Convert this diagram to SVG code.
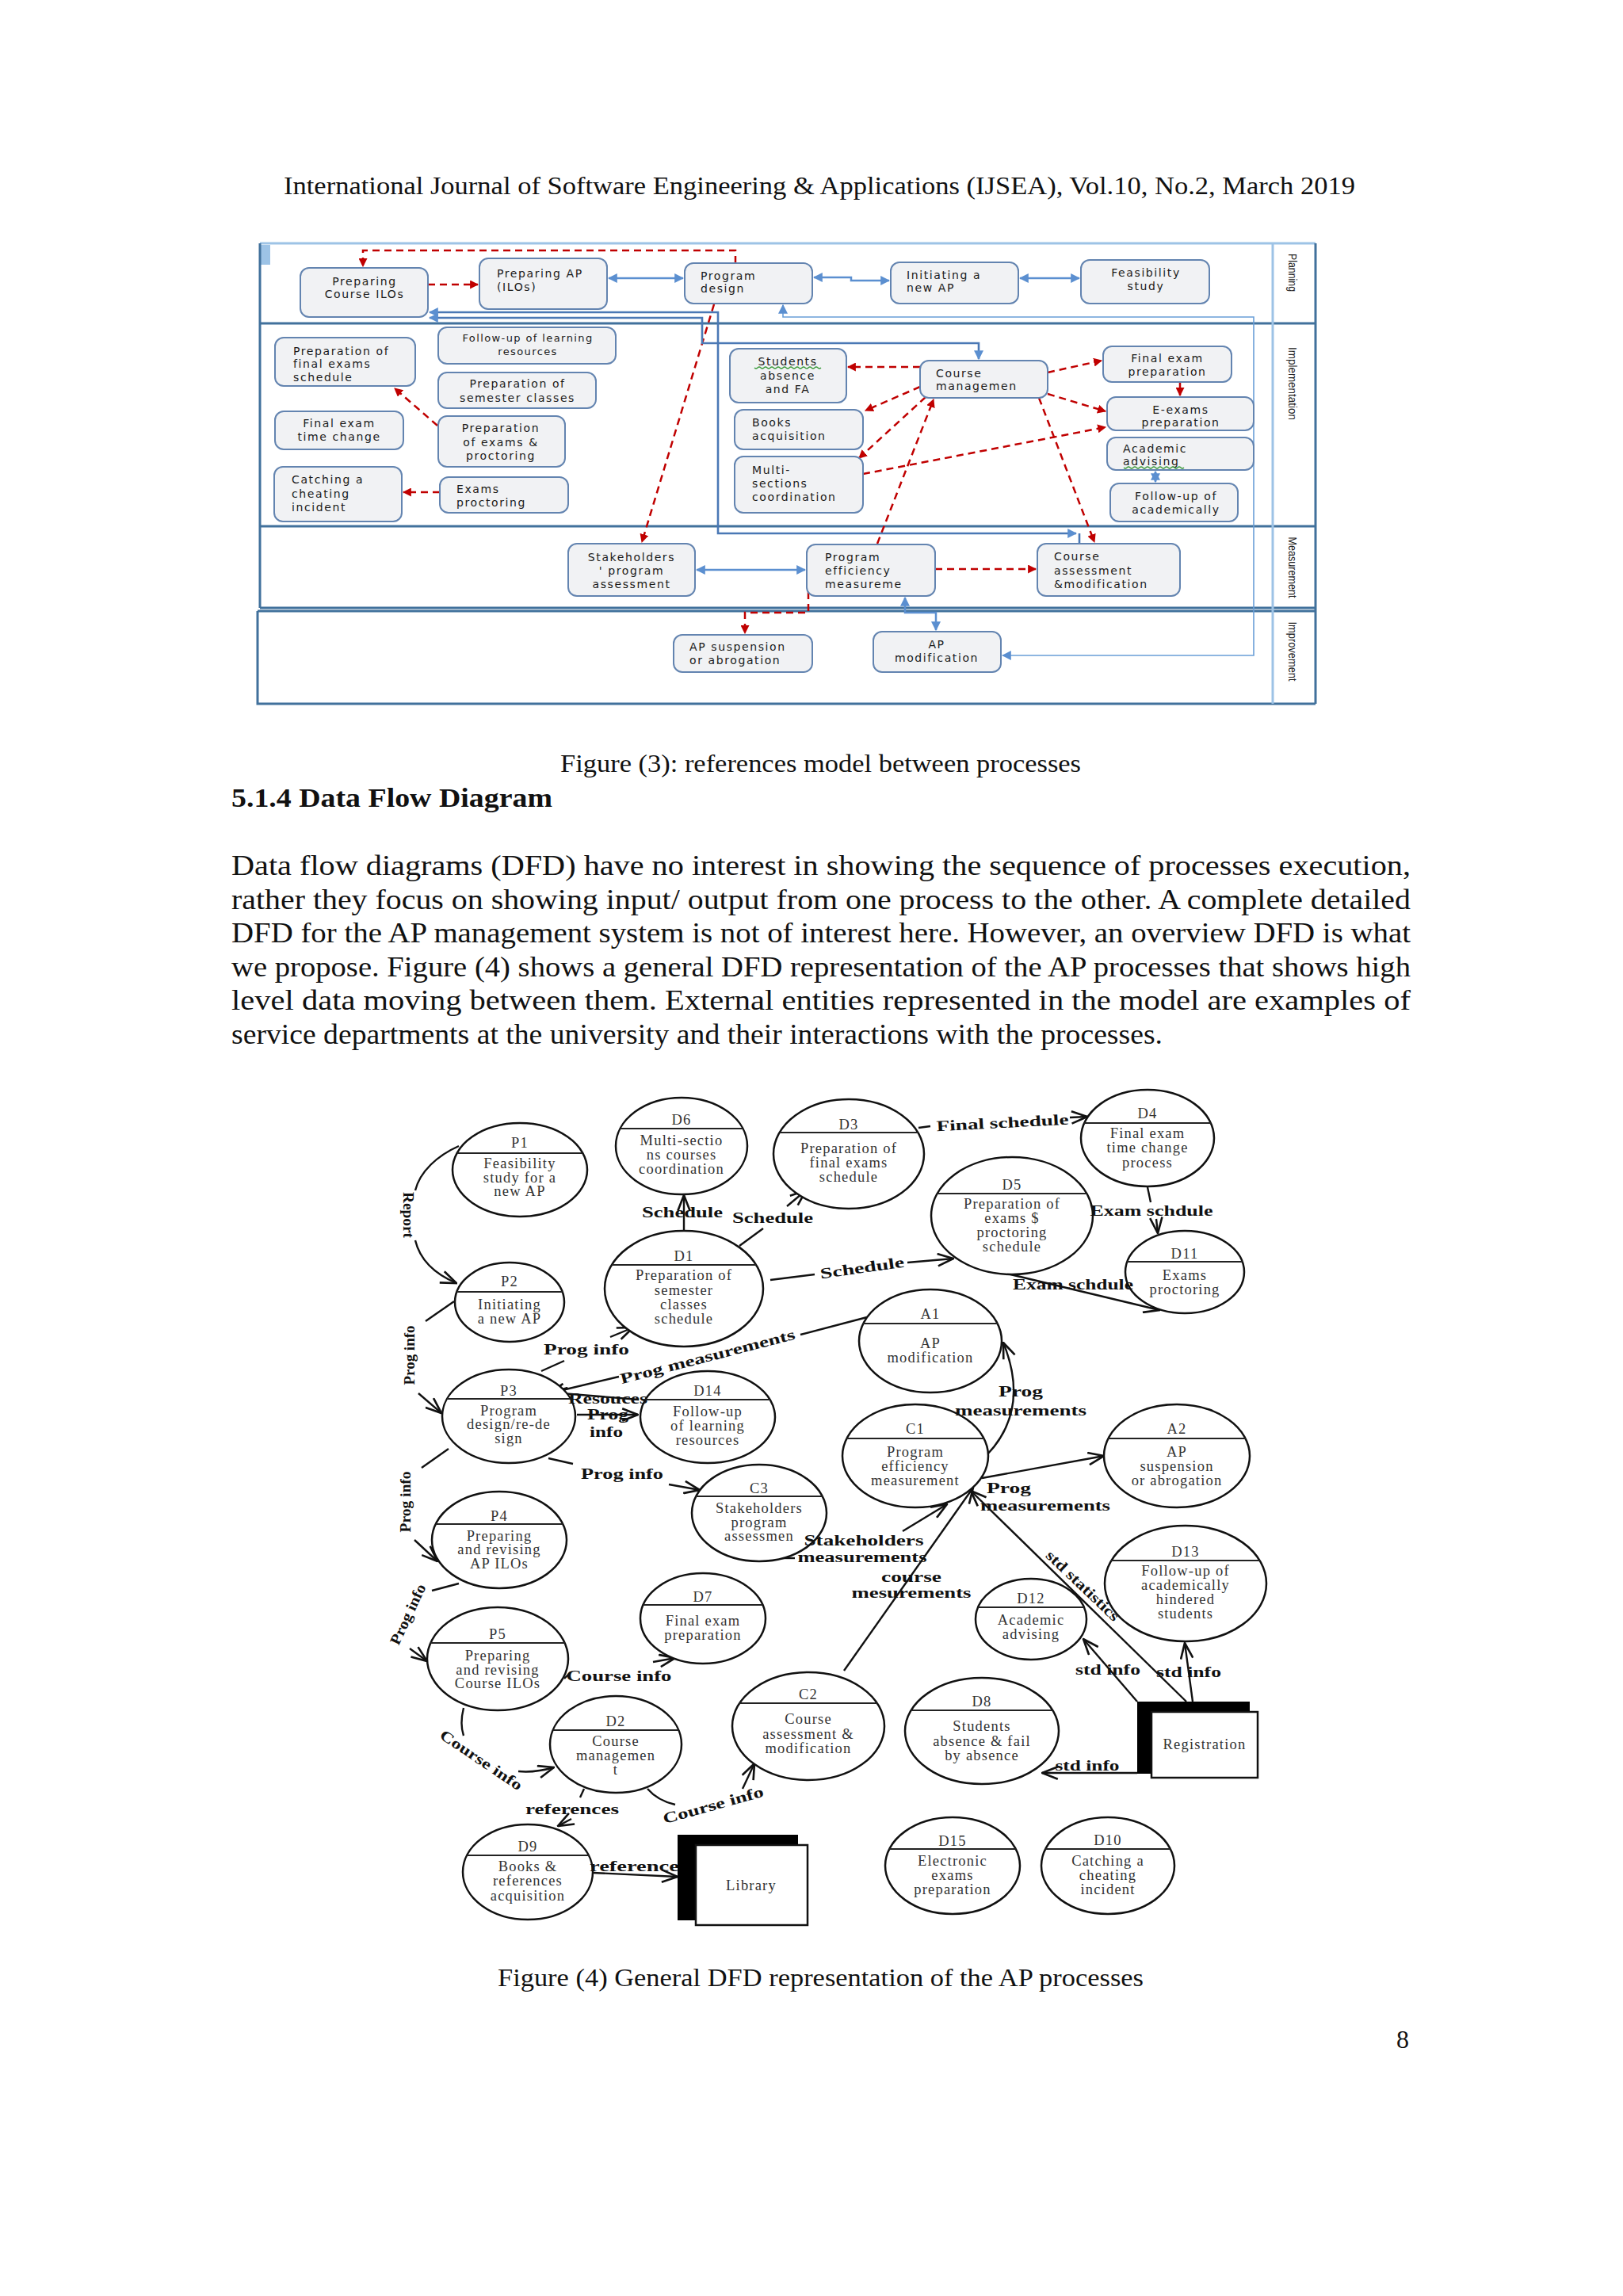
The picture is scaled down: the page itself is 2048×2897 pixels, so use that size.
<svg xmlns="http://www.w3.org/2000/svg" width="2048" height="2897" viewBox="0 0 2048 2897">
<defs>
<marker id="aR" viewBox="0 0 10 10" refX="9" refY="5" markerWidth="11" markerHeight="11" markerUnits="userSpaceOnUse" orient="auto-start-reverse"><path d="M0,0 L10,5 L0,10 z" fill="#c00000"/></marker>
<marker id="aB" viewBox="0 0 10 10" refX="9" refY="5" markerWidth="12" markerHeight="12" markerUnits="userSpaceOnUse" orient="auto-start-reverse"><path d="M0,0 L10,5 L0,10 z" fill="#5b8fd0"/></marker>
<marker id="aK" viewBox="0 0 20 16" refX="19" refY="8" markerWidth="22" markerHeight="18" markerUnits="userSpaceOnUse" orient="auto"><path d="M1,1 L19,8 L1,15" fill="none" stroke="#111" stroke-width="2.4"/></marker>
</defs>
<style>
.pg{font-family:"Liberation Serif","Times New Roman",serif;fill:#111}
.b3{fill:#f1f2f4;stroke:#6384b0;stroke-width:2}
.t3{font-family:"DejaVu Sans",Verdana,sans-serif;font-size:14px;letter-spacing:1.6px;fill:#1a1a1a}
.lane{font-family:"Liberation Sans",Arial,sans-serif;font-size:14px;fill:#222}
.fr{stroke:#41719c;stroke-width:3;fill:none}
.frl{stroke:#9dc3e6;stroke-width:3;fill:none}
.rd{stroke:#c00000;stroke-width:2.5;stroke-dasharray:9,6;fill:none}
.bl{stroke:#5b8fd0;stroke-width:2.5;fill:none}
.blt{stroke:#6a9fd8;stroke-width:1.6;fill:none}
.el{fill:#fff;stroke:#111;stroke-width:2.5}
.dv{stroke:#222;stroke-width:2}
.nt{font-family:"Liberation Serif","Times New Roman",serif;font-size:18.5px;letter-spacing:1.2px;fill:#333;text-anchor:middle}
.lb{font-family:"Liberation Serif","Times New Roman",serif;font-size:19px;font-weight:bold;fill:#111;text-anchor:middle}
.ln{stroke:#111;stroke-width:2.4;fill:none}
.ar{stroke:#111;stroke-width:2.4;fill:none;marker-end:url(#aK)}
.sq{stroke:#3a9a3a;stroke-width:1.2;fill:none}
</style>
<rect x="0" y="0" width="2048" height="2897" fill="#fff"/>

<!-- Page text -->
<g id="page-text" class="pg">
<text x="358" y="245" font-size="32" textLength="1352" lengthAdjust="spacingAndGlyphs">International Journal of Software Engineering &amp; Applications (IJSEA), Vol.10, No.2, March 2019</text>
<text x="707" y="974" font-size="32" textLength="657" lengthAdjust="spacingAndGlyphs">Figure (3): references model between processes</text>
<text x="292" y="1018" font-size="34" font-weight="bold" textLength="405" lengthAdjust="spacingAndGlyphs">5.1.4 Data Flow Diagram</text>
<text x="292" y="1104" font-size="35" textLength="1488" lengthAdjust="spacingAndGlyphs">Data flow diagrams (DFD) have no interest in showing the sequence of processes execution,</text>
<text x="292" y="1147" font-size="35" textLength="1488" lengthAdjust="spacingAndGlyphs">rather they focus on showing input/ output from one process to the other. A complete detailed</text>
<text x="292" y="1189" font-size="35" textLength="1488" lengthAdjust="spacingAndGlyphs">DFD for the AP management system is not of interest here. However, an overview DFD is what</text>
<text x="292" y="1232" font-size="35" textLength="1488" lengthAdjust="spacingAndGlyphs">we propose. Figure (4) shows a general DFD representation of the AP processes that shows high</text>
<text x="292" y="1274" font-size="35" textLength="1488" lengthAdjust="spacingAndGlyphs">level data moving between them. External entities represented in the model are examples of</text>
<text x="292" y="1317" font-size="35" textLength="1175" lengthAdjust="spacingAndGlyphs">service departments at the university and their interactions with the processes.</text>
<text x="628" y="2506" font-size="32" textLength="815" lengthAdjust="spacingAndGlyphs">Figure (4) General DFD representation of the AP processes</text>
<text x="1770" y="2584" font-size="32" text-anchor="middle">8</text>
</g>

<!-- Figure 3 frame -->
<g id="fig3-frame">
<rect x="329" y="309" width="12" height="25" fill="#9dc3e6"/>
<path class="frl" d="M328,307 H1660"/>
<path class="fr" d="M328,307 V767 M1660,307 V888 M328,408 H1660 M328,664 H1660 M328,767 H1660 M325,771 V888 H1660 M325,771 H1660"/>
<path class="frl" d="M1606,307 V888"/>
<text class="lane" transform="translate(1626,344) rotate(90)" text-anchor="middle" textLength="48" lengthAdjust="spacingAndGlyphs">Planning</text>
<text class="lane" transform="translate(1626,484) rotate(90)" text-anchor="middle" textLength="92" lengthAdjust="spacingAndGlyphs">Implementation</text>
<text class="lane" transform="translate(1626,716) rotate(90)" text-anchor="middle" textLength="77" lengthAdjust="spacingAndGlyphs">Measurement</text>
<text class="lane" transform="translate(1626,822) rotate(90)" text-anchor="middle" textLength="75" lengthAdjust="spacingAndGlyphs">Improvement</text>
</g>

<!-- Figure 3 connectors -->
<g id="fig3-connectors">
<path class="rd" d="M928,332 V316 H458 V336" marker-end="url(#aR)"/>
<path class="rd" d="M540,359 H603" marker-end="url(#aR)"/>
<path class="rd" d="M552,537 L498,490" marker-end="url(#aR)"/>
<path class="rd" d="M555,621 H509" marker-end="url(#aR)"/>
<path class="rd" d="M901,384 L810,684" marker-end="url(#aR)"/>
<path class="rd" d="M1161,463 H1070" marker-end="url(#aR)"/>
<path class="rd" d="M1161,488 L1092,518" marker-end="url(#aR)"/>
<path class="rd" d="M1168,501 L1084,578" marker-end="url(#aR)"/>
<path class="rd" d="M1107,686 L1178,504" marker-end="url(#aR)"/>
<path class="rd" d="M1311,502 L1381,684" marker-end="url(#aR)"/>
<path class="rd" d="M1322,470 L1390,455" marker-end="url(#aR)"/>
<path class="rd" d="M1322,497 L1395,519" marker-end="url(#aR)"/>
<path class="rd" d="M1489,482 V499" marker-end="url(#aR)"/>
<path class="rd" d="M1089,598 L1395,539" marker-end="url(#aR)"/>
<path class="rd" d="M1180,718 H1307" marker-end="url(#aR)"/>
<path class="rd" d="M1020,747 V773 H940 V799" marker-end="url(#aR)"/>
<path class="bl" d="M768,351 H862" marker-start="url(#aB)" marker-end="url(#aB)"/>
<path class="bl" d="M1027,350 H1074 V354 H1122" marker-start="url(#aB)" marker-end="url(#aB)"/>
<path class="bl" d="M1287,351 H1362" marker-start="url(#aB)" marker-end="url(#aB)"/>
<path class="fr" d="M1358,673 H906 V394 H542" marker-start="url(#aB)" marker-end="url(#aB)" style="stroke:#4a78b5;stroke-width:2.6"/>
<path class="fr" d="M1362,673 V686" style="stroke:#4a78b5;stroke-width:2.6"/>
<path class="fr" d="M542,401 H886 V433 H1235 V453" marker-start="url(#aB)" marker-end="url(#aB)" style="stroke:#4a78b5;stroke-width:2.6"/>
<path class="blt" d="M988,385 V400 H1582 V827 H1265" marker-start="url(#aB)" marker-end="url(#aB)"/>
<path class="bl" d="M879,719 H1016" marker-start="url(#aB)" marker-end="url(#aB)"/>
<path class="bl" d="M1142,754 V773 H1181 V795" marker-start="url(#aB)" marker-end="url(#aB)"/>
<path class="bl" d="M1458,595 V608" marker-start="url(#aB)" marker-end="url(#aB)"/>
</g>

<!-- Figure 3 nodes -->
<g id="f3-prep-course-ilos"><rect class="b3" x="379" y="338" width="161" height="62" rx="11"/><text class="t3" text-anchor="middle"><tspan x="460" y="360">Preparing</tspan><tspan x="460" y="376">Course ILOs</tspan></text></g>
<g id="f3-prep-ap-ilos"><rect class="b3" x="605" y="326" width="161" height="64" rx="11"/><text class="t3"><tspan x="627" y="350">Preparing AP</tspan><tspan x="627" y="367">(ILOs)</tspan></text></g>
<g id="f3-program-design"><rect class="b3" x="864" y="332" width="161" height="51" rx="11"/><text class="t3"><tspan x="884" y="353">Program</tspan><tspan x="884" y="369">design</tspan></text></g>
<g id="f3-initiating"><rect class="b3" x="1124" y="331" width="161" height="52" rx="11"/><text class="t3"><tspan x="1144" y="352">Initiating a</tspan><tspan x="1144" y="368">new AP</tspan></text></g>
<g id="f3-feasibility"><rect class="b3" x="1364" y="328" width="162" height="55" rx="11"/><text class="t3" text-anchor="middle"><tspan x="1446" y="349">Feasibility</tspan><tspan x="1446" y="366">study</tspan></text></g>
<g id="f3-followup-learning"><rect class="b3" x="553" y="413" width="224" height="46" rx="11"/><text class="t3" text-anchor="middle" style="font-size:13px;letter-spacing:1.4px"><tspan x="666" y="431">Follow-up of learning</tspan><tspan x="666" y="448">resources</tspan></text></g>
<g id="f3-final-exams-schedule"><rect class="b3" x="347" y="426" width="177" height="61" rx="11"/><text class="t3"><tspan x="370" y="448">Preparation of</tspan><tspan x="370" y="464">final exams</tspan><tspan x="370" y="481">schedule</tspan></text></g>
<g id="f3-semester-classes"><rect class="b3" x="553" y="470" width="199" height="45" rx="11"/><text class="t3" text-anchor="middle"><tspan x="653" y="489">Preparation of</tspan><tspan x="653" y="507">semester classes</tspan></text></g>
<g id="f3-final-exam-time"><rect class="b3" x="347" y="519" width="162" height="48" rx="11"/><text class="t3" text-anchor="middle"><tspan x="428" y="539">Final exam</tspan><tspan x="428" y="556">time change</tspan></text></g>
<g id="f3-exams-proctoring-prep"><rect class="b3" x="553" y="525" width="160" height="64" rx="11"/><text class="t3" text-anchor="middle"><tspan x="632" y="545">Preparation</tspan><tspan x="632" y="563">of exams &amp;</tspan><tspan x="632" y="580">proctoring</tspan></text></g>
<g id="f3-catching"><rect class="b3" x="346" y="589" width="161" height="69" rx="11"/><text class="t3"><tspan x="368" y="610">Catching a</tspan><tspan x="368" y="628">cheating</tspan><tspan x="368" y="645">incident</tspan></text></g>
<g id="f3-exams-proctoring"><rect class="b3" x="555" y="602" width="162" height="45" rx="11"/><text class="t3"><tspan x="576" y="622">Exams</tspan><tspan x="576" y="639">proctoring</tspan></text></g>
<g id="f3-students-absence"><rect class="b3" x="921" y="440" width="147" height="68" rx="11"/><text class="t3" text-anchor="middle"><tspan x="994" y="461">Students</tspan><tspan x="994" y="479">absence</tspan><tspan x="994" y="496">and FA</tspan></text><path class="sq" d="M952,464 q2,2 4,0 t4,0 t4,0 t4,0 t4,0 t4,0 t4,0 t4,0 t4,0 t4,0 t4,0 t4,0 t4,0 t4,0 t4,0 t4,0 t4,0 t4,0 t4,0 t4,0 t4,0"/></g>
<g id="f3-books"><rect class="b3" x="927" y="517" width="162" height="50" rx="11"/><text class="t3"><tspan x="949" y="538">Books</tspan><tspan x="949" y="555">acquisition</tspan></text></g>
<g id="f3-multi-sections"><rect class="b3" x="927" y="576" width="162" height="71" rx="11"/><text class="t3"><tspan x="949" y="598">Multi-</tspan><tspan x="949" y="615">sections</tspan><tspan x="949" y="632">coordination</tspan></text></g>
<g id="f3-course-management"><rect class="b3" x="1161" y="455" width="161" height="47" rx="11"/><text class="t3"><tspan x="1181" y="476">Course</tspan><tspan x="1181" y="492">managemen</tspan></text></g>
<g id="f3-final-exam-prep"><rect class="b3" x="1392" y="437" width="162" height="45" rx="11"/><text class="t3" text-anchor="middle"><tspan x="1473" y="457">Final exam</tspan><tspan x="1473" y="474">preparation</tspan></text></g>
<g id="f3-e-exams"><rect class="b3" x="1397" y="501" width="185" height="42" rx="11"/><text class="t3" text-anchor="middle"><tspan x="1490" y="522">E-exams</tspan><tspan x="1490" y="538">preparation</tspan></text></g>
<g id="f3-academic-advising"><rect class="b3" x="1397" y="552" width="185" height="41" rx="11"/><text class="t3"><tspan x="1417" y="571">Academic</tspan><tspan x="1417" y="587">advising</tspan></text><path class="sq" d="M1418,590 q2,2 4,0 t4,0 t4,0 t4,0 t4,0 t4,0 t4,0 t4,0 t4,0 t4,0 t4,0 t4,0 t4,0 t4,0 t4,0 t4,0 t4,0 t4,0 t4,0"/></g>
<g id="f3-followup-academically"><rect class="b3" x="1401" y="610" width="161" height="48" rx="11"/><text class="t3" text-anchor="middle"><tspan x="1484" y="631">Follow-up of</tspan><tspan x="1484" y="648">academically</tspan></text></g>
<g id="f3-stakeholders"><rect class="b3" x="717" y="686" width="160" height="66" rx="11"/><text class="t3" text-anchor="middle"><tspan x="797" y="708">Stakeholders</tspan><tspan x="797" y="725">' program</tspan><tspan x="797" y="742">assessment</tspan></text></g>
<g id="f3-program-efficiency"><rect class="b3" x="1018" y="687" width="162" height="65" rx="11"/><text class="t3"><tspan x="1041" y="708">Program</tspan><tspan x="1041" y="725">efficiency</tspan><tspan x="1041" y="742">measureme</tspan></text></g>
<g id="f3-course-assessment"><rect class="b3" x="1309" y="686" width="180" height="66" rx="11"/><text class="t3"><tspan x="1330" y="707">Course</tspan><tspan x="1330" y="725">assessment</tspan><tspan x="1330" y="742">&amp;modification</tspan></text></g>
<g id="f3-ap-suspension"><rect class="b3" x="850" y="801" width="175" height="47" rx="11"/><text class="t3"><tspan x="870" y="821">AP suspension</tspan><tspan x="870" y="838">or abrogation</tspan></text></g>
<g id="f3-ap-modification"><rect class="b3" x="1102" y="797" width="161" height="51" rx="11"/><text class="t3" text-anchor="middle"><tspan x="1182" y="818">AP</tspan><tspan x="1182" y="835">modification</tspan></text></g>

<!-- Figure 4 connectors -->
<g id="fig4-connectors">
<path class="ln" d="M579,1446 C552,1458 530,1478 524,1502"/>
<path class="ar" d="M524,1565 C530,1590 550,1608 576,1619"/>
<path class="ln" d="M573,1642 L537,1667"/>
<path class="ar" d="M528,1758 L557,1783"/>
<path class="ln" d="M566,1828 L532,1852"/>
<path class="ar" d="M523,1943 L552,1970"/>
<path class="ln" d="M579,1998 L545,2007"/>
<path class="ar" d="M517,2080 L539,2096"/>
<path class="ln" d="M585,2155 Q580,2175 585,2190"/>
<path class="ar" d="M654,2235 Q675,2237 699,2230"/>
<path class="ln" d="M737,2257 L732,2268"/>
<path class="ar" d="M721,2295 L704,2304"/>
<path class="ln" d="M817,2257 Q830,2272 852,2277"/>
<path class="ar" d="M937,2257 Q945,2240 952,2225"/>
<path class="ar" d="M748,2363 L855,2368"/>
<path class="ln" d="M712,2118 L720,2110"/>
<path class="ar" d="M824,2097 L852,2092"/>
<path class="ln" d="M692,1840 L723,1847"/>
<path class="ar" d="M844,1873 L883,1880"/>
<path class="ln" d="M683,1730 L712,1717"/>
<path class="ar" d="M770,1687 L799,1675"/>
<path class="ln" d="M1094,1662 L1010,1684"/>
<path class="ar" d="M781,1737 L693,1758"/>
<path class="ar" d="M806,1766 L696,1757"/>
<path class="ar" d="M728,1785 L805,1785"/>
<path class="ar" d="M863,1553 L863,1508"/>
<path class="ln" d="M933,1572 L963,1550"/>
<path class="ar" d="M993,1522 L1017,1502"/>
<path class="ln" d="M972,1615 L1028,1608"/>
<path class="ar" d="M1145,1593 L1203,1588"/>
<path class="ln" d="M1159,1423 L1174,1421"/>
<path class="ar" d="M1350,1410 L1372,1409"/>
<path class="ln" d="M1448,1498 L1452,1517"/>
<path class="ar" d="M1459,1538 L1461,1556"/>
<path class="ar" d="M1275,1608 L1463,1653"/>
<path class="ar" d="M1246,1835 Q1300,1778 1266,1694"/>
<path class="ar" d="M1239,1865 L1393,1837"/>
<path class="ln" d="M983,1966 L1003,1966"/>
<path class="ar" d="M1139,1932 L1195,1898"/>
<path class="ar" d="M1065,2108 L1228,1877"/>
<path class="ar" d="M1497,2147 L1225,1881"/>
<path class="ar" d="M1435,2147 L1367,2068"/>
<path class="ar" d="M1505,2147 L1495,2073"/>
<path class="ar" d="M1435,2237 L1315,2237"/>
</g>

<!-- Figure 4 nodes -->
<g id="P1"><ellipse class="el" cx="656" cy="1476" rx="85" ry="59"/><line class="dv" x1="577" y1="1455" x2="735" y2="1455"/><text class="nt"><tspan x="656" y="1448">P1</tspan><tspan x="656" y="1474">Feasibility</tspan><tspan x="656" y="1492">study for a</tspan><tspan x="656" y="1509">new AP</tspan></text></g>
<g id="D6"><ellipse class="el" cx="860" cy="1446" rx="83" ry="61"/><line class="dv" x1="783" y1="1424" x2="937" y2="1424"/><text class="nt"><tspan x="860" y="1419">D6</tspan><tspan x="860" y="1445">Multi-sectio</tspan><tspan x="860" y="1463">ns courses</tspan><tspan x="860" y="1481">coordination</tspan></text></g>
<g id="D3"><ellipse class="el" cx="1071" cy="1456" rx="95" ry="69"/><line class="dv" x1="984" y1="1429" x2="1158" y2="1429"/><text class="nt"><tspan x="1071" y="1425">D3</tspan><tspan x="1071" y="1455">Preparation of</tspan><tspan x="1071" y="1473">final exams</tspan><tspan x="1071" y="1491">schedule</tspan></text></g>
<g id="D4"><ellipse class="el" cx="1448" cy="1436" rx="84" ry="61"/><line class="dv" x1="1368" y1="1417" x2="1528" y2="1417"/><text class="nt"><tspan x="1448" y="1411">D4</tspan><tspan x="1448" y="1436">Final exam</tspan><tspan x="1448" y="1454">time change</tspan><tspan x="1448" y="1473">process</tspan></text></g>
<g id="D5"><ellipse class="el" cx="1277" cy="1534" rx="102" ry="74"/><line class="dv" x1="1183" y1="1506" x2="1371" y2="1506"/><text class="nt"><tspan x="1277" y="1501">D5</tspan><tspan x="1277" y="1525">Preparation of</tspan><tspan x="1277" y="1543">exams $</tspan><tspan x="1277" y="1561">proctoring</tspan><tspan x="1277" y="1579">schedule</tspan></text></g>
<g id="D1"><ellipse class="el" cx="863" cy="1626" rx="100" ry="73"/><line class="dv" x1="772" y1="1596" x2="954" y2="1596"/><text class="nt"><tspan x="863" y="1591">D1</tspan><tspan x="863" y="1615">Preparation of</tspan><tspan x="863" y="1634">semester</tspan><tspan x="863" y="1652">classes</tspan><tspan x="863" y="1670">schedule</tspan></text></g>
<g id="P2"><ellipse class="el" cx="643" cy="1643" rx="69" ry="50"/><line class="dv" x1="576" y1="1630" x2="710" y2="1630"/><text class="nt"><tspan x="643" y="1623">P2</tspan><tspan x="643" y="1652">Initiating</tspan><tspan x="643" y="1670">a new AP</tspan></text></g>
<g id="A1"><ellipse class="el" cx="1174" cy="1692" rx="90" ry="65"/><line class="dv" x1="1089" y1="1670" x2="1259" y2="1670"/><text class="nt"><tspan x="1174" y="1664">A1</tspan><tspan x="1174" y="1701">AP</tspan><tspan x="1174" y="1719">modification</tspan></text></g>
<g id="D11"><ellipse class="el" cx="1495" cy="1605" rx="75" ry="52"/><line class="dv" x1="1422" y1="1592" x2="1568" y2="1592"/><text class="nt"><tspan x="1495" y="1588">D11</tspan><tspan x="1495" y="1615">Exams</tspan><tspan x="1495" y="1633">proctoring</tspan></text></g>
<g id="P3"><ellipse class="el" cx="642" cy="1787" rx="84" ry="59"/><line class="dv" x1="564" y1="1765" x2="720" y2="1765"/><text class="nt"><tspan x="642" y="1761">P3</tspan><tspan x="642" y="1786">Program</tspan><tspan x="642" y="1803">design/re-de</tspan><tspan x="642" y="1821">sign</tspan></text></g>
<g id="D14"><ellipse class="el" cx="893" cy="1788" rx="85" ry="58"/><line class="dv" x1="814" y1="1766" x2="972" y2="1766"/><text class="nt"><tspan x="893" y="1761">D14</tspan><tspan x="893" y="1787">Follow-up</tspan><tspan x="893" y="1805">of learning</tspan><tspan x="893" y="1823">resources</tspan></text></g>
<g id="C1"><ellipse class="el" cx="1155" cy="1837" rx="92" ry="65"/><line class="dv" x1="1068" y1="1815" x2="1242" y2="1815"/><text class="nt"><tspan x="1155" y="1809">C1</tspan><tspan x="1155" y="1838">Program</tspan><tspan x="1155" y="1856">efficiency</tspan><tspan x="1155" y="1874">measurement</tspan></text></g>
<g id="A2"><ellipse class="el" cx="1485" cy="1837" rx="92" ry="65"/><line class="dv" x1="1398" y1="1815" x2="1572" y2="1815"/><text class="nt"><tspan x="1485" y="1809">A2</tspan><tspan x="1485" y="1838">AP</tspan><tspan x="1485" y="1856">suspension</tspan><tspan x="1485" y="1874">or abrogation</tspan></text></g>
<g id="C3"><ellipse class="el" cx="958" cy="1909" rx="85" ry="61"/><line class="dv" x1="878" y1="1888" x2="1038" y2="1888"/><text class="nt"><tspan x="958" y="1884">C3</tspan><tspan x="958" y="1909">Stakeholders</tspan><tspan x="958" y="1927">program</tspan><tspan x="958" y="1944">assessmen</tspan></text></g>
<g id="P4"><ellipse class="el" cx="630" cy="1943" rx="85" ry="61"/><line class="dv" x1="550" y1="1923" x2="710" y2="1923"/><text class="nt"><tspan x="630" y="1919">P4</tspan><tspan x="630" y="1944">Preparing</tspan><tspan x="630" y="1961">and revising</tspan><tspan x="630" y="1979">AP ILOs</tspan></text></g>
<g id="D13"><ellipse class="el" cx="1496" cy="1998" rx="102" ry="73"/><line class="dv" x1="1402" y1="1969" x2="1590" y2="1969"/><text class="nt"><tspan x="1496" y="1964">D13</tspan><tspan x="1496" y="1988">Follow-up of</tspan><tspan x="1496" y="2006">academically</tspan><tspan x="1496" y="2024">hindered</tspan><tspan x="1496" y="2042">students</tspan></text></g>
<g id="D7"><ellipse class="el" cx="887" cy="2042" rx="79" ry="57"/><line class="dv" x1="812" y1="2025" x2="962" y2="2025"/><text class="nt"><tspan x="887" y="2021">D7</tspan><tspan x="887" y="2051">Final exam</tspan><tspan x="887" y="2069">preparation</tspan></text></g>
<g id="D12"><ellipse class="el" cx="1301" cy="2043" rx="70" ry="51"/><line class="dv" x1="1234" y1="2028" x2="1368" y2="2028"/><text class="nt"><tspan x="1301" y="2023">D12</tspan><tspan x="1301" y="2050">Academic</tspan><tspan x="1301" y="2068">advising</tspan></text></g>
<g id="P5"><ellipse class="el" cx="628" cy="2093" rx="89" ry="65"/><line class="dv" x1="543" y1="2073" x2="713" y2="2073"/><text class="nt"><tspan x="628" y="2068">P5</tspan><tspan x="628" y="2095">Preparing</tspan><tspan x="628" y="2113">and revising</tspan><tspan x="628" y="2130">Course ILOs</tspan></text></g>
<g id="C2"><ellipse class="el" cx="1020" cy="2178" rx="96" ry="68"/><line class="dv" x1="933" y1="2149" x2="1107" y2="2149"/><text class="nt"><tspan x="1020" y="2144">C2</tspan><tspan x="1020" y="2175">Course</tspan><tspan x="1020" y="2194">assessment &amp;</tspan><tspan x="1020" y="2212">modification</tspan></text></g>
<g id="D2"><ellipse class="el" cx="777" cy="2201" rx="83" ry="61"/><line class="dv" x1="698" y1="2183" x2="856" y2="2183"/><text class="nt"><tspan x="777" y="2178">D2</tspan><tspan x="777" y="2203">Course</tspan><tspan x="777" y="2221">managemen</tspan><tspan x="777" y="2239">t</tspan></text></g>
<g id="D8"><ellipse class="el" cx="1239" cy="2184" rx="97" ry="67"/><line class="dv" x1="1150" y1="2158" x2="1328" y2="2158"/><text class="nt"><tspan x="1239" y="2153">D8</tspan><tspan x="1239" y="2184">Students</tspan><tspan x="1239" y="2203">absence &amp; fail</tspan><tspan x="1239" y="2221">by absence</tspan></text></g>
<g id="D9"><ellipse class="el" cx="666" cy="2362" rx="82" ry="60"/><line class="dv" x1="589" y1="2341" x2="743" y2="2341"/><text class="nt"><tspan x="666" y="2336">D9</tspan><tspan x="666" y="2361">Books &amp;</tspan><tspan x="666" y="2379">references</tspan><tspan x="666" y="2398">acquisition</tspan></text></g>
<g id="D15"><ellipse class="el" cx="1202" cy="2354" rx="85" ry="61"/><line class="dv" x1="1122" y1="2333" x2="1282" y2="2333"/><text class="nt"><tspan x="1202" y="2329">D15</tspan><tspan x="1202" y="2354">Electronic</tspan><tspan x="1202" y="2372">exams</tspan><tspan x="1202" y="2390">preparation</tspan></text></g>
<g id="D10"><ellipse class="el" cx="1398" cy="2354" rx="84" ry="61"/><line class="dv" x1="1319" y1="2333" x2="1477" y2="2333"/><text class="nt"><tspan x="1398" y="2328">D10</tspan><tspan x="1398" y="2354">Catching a</tspan><tspan x="1398" y="2372">cheating</tspan><tspan x="1398" y="2390">incident</tspan></text></g>

<!-- Figure 4 flow labels -->
<g id="fig4-labels">
<text class="lb" transform="translate(515,1533) rotate(90)" y="6" textLength="58" lengthAdjust="spacingAndGlyphs">Report</text>
<text class="lb" transform="translate(517,1710) rotate(-90)" y="6" textLength="75" lengthAdjust="spacingAndGlyphs">Prog info</text>
<text class="lb" transform="translate(512,1895) rotate(-90)" y="6" textLength="77" lengthAdjust="spacingAndGlyphs">Prog info</text>
<text class="lb" transform="translate(515,2037) rotate(-65)" y="6" textLength="82" lengthAdjust="spacingAndGlyphs">Prog info</text>
<text class="lb" transform="translate(607,2221) rotate(34)" y="6" textLength="121" lengthAdjust="spacingAndGlyphs">Course info</text>
<text class="lb" x="722" y="2289" textLength="118" lengthAdjust="spacingAndGlyphs">references</text>
<text class="lb" transform="translate(900,2278) rotate(-15.5)" y="6" textLength="131" lengthAdjust="spacingAndGlyphs">Course info</text>
<text class="lb" x="806" y="2361" textLength="124" lengthAdjust="spacingAndGlyphs">references</text>
<text class="lb" x="781" y="2121" textLength="133" lengthAdjust="spacingAndGlyphs">Course info</text>
<text class="lb" x="785" y="1866" textLength="104" lengthAdjust="spacingAndGlyphs">Prog info</text>
<text class="lb" x="740" y="1709" textLength="108" lengthAdjust="spacingAndGlyphs">Prog info</text>
<text class="lb" transform="translate(893,1712) rotate(-14.5)" y="6" textLength="227" lengthAdjust="spacingAndGlyphs">Prog measurements</text>
<text class="lb" x="767" y="1771" textLength="100" lengthAdjust="spacingAndGlyphs">Resouces</text>
<text class="lb" x="767" y="1791" textLength="52" lengthAdjust="spacingAndGlyphs">Prog</text>
<text class="lb" x="765" y="1813" textLength="42" lengthAdjust="spacingAndGlyphs">info</text>
<text class="lb" x="861" y="1536" textLength="102" lengthAdjust="spacingAndGlyphs">Schedule</text>
<text class="lb" x="975" y="1543" textLength="102" lengthAdjust="spacingAndGlyphs">Schedule</text>
<text class="lb" transform="translate(1088,1600) rotate(-8)" y="6" textLength="107" lengthAdjust="spacingAndGlyphs">Schedule</text>
<text class="lb" transform="translate(1265,1417) rotate(-3)" y="6" textLength="167" lengthAdjust="spacingAndGlyphs">Final schedule</text>
<text class="lb" x="1453" y="1534" textLength="155" lengthAdjust="spacingAndGlyphs">Exam schdule</text>
<text class="lb" x="1354" y="1627" textLength="152" lengthAdjust="spacingAndGlyphs">Exam schdule</text>
<text class="lb" x="1288" y="1762" textLength="56" lengthAdjust="spacingAndGlyphs">Prog</text>
<text class="lb" x="1288" y="1786" textLength="166" lengthAdjust="spacingAndGlyphs">measurements</text>
<text class="lb" x="1273" y="1884" textLength="56" lengthAdjust="spacingAndGlyphs">Prog</text>
<text class="lb" x="1319" y="1906" textLength="164" lengthAdjust="spacingAndGlyphs">measurements</text>
<text class="lb" x="1090" y="1950" textLength="151" lengthAdjust="spacingAndGlyphs">Stakeholders</text>
<text class="lb" x="1088" y="1971" textLength="163" lengthAdjust="spacingAndGlyphs">measurements</text>
<text class="lb" x="1150" y="1996" textLength="76" lengthAdjust="spacingAndGlyphs">course</text>
<text class="lb" x="1150" y="2016" textLength="151" lengthAdjust="spacingAndGlyphs">mesurements</text>
<text class="lb" transform="translate(1366,2001) rotate(43.6)" y="6" textLength="120" lengthAdjust="spacingAndGlyphs">std statistics</text>
<text class="lb" x="1398" y="2113" textLength="82" lengthAdjust="spacingAndGlyphs">std info</text>
<text class="lb" x="1500" y="2116" textLength="82" lengthAdjust="spacingAndGlyphs">std info</text>
<text class="lb" x="1372" y="2234" textLength="81" lengthAdjust="spacingAndGlyphs">std info</text>
</g>

<g id="Registration"><rect x="1435" y="2147" width="142" height="91" fill="#000"/><rect x="1453" y="2160" width="134" height="83" fill="#fff" stroke="#111" stroke-width="2.5"/><text class="nt" x="1520" y="2207">Registration</text></g>
<g id="Library"><rect x="855" y="2315" width="152" height="108" fill="#000"/><rect x="878" y="2328" width="141" height="101" fill="#fff" stroke="#111" stroke-width="2.5"/><text class="nt" x="948" y="2385">Library</text></g>
</svg>
